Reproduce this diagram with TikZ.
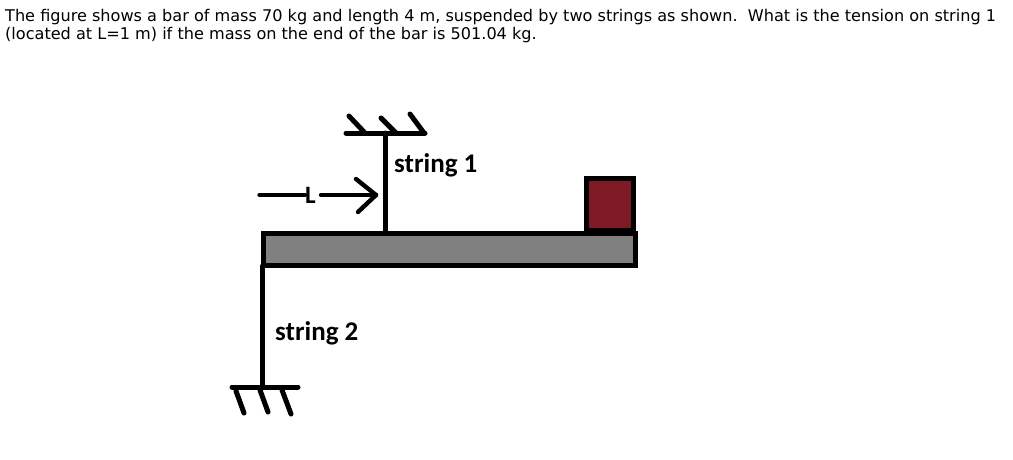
\documentclass[tikz,border=0pt]{standalone}
\usepackage{fontspec}
\setmainfont{DejaVu Sans}
\newfontfamily\labelfont{Carlito}
\definecolor{barGray}{HTML}{808080}
\definecolor{massRed}{HTML}{7F1A24}
\begin{document}
\begin{tikzpicture}[x=1pt,y=-1pt,line cap=round,main line/.style={line width=5pt,draw=black},thin line/.style={line width=4.4pt,draw=black},body node/.style={draw=black,line width=5pt,inner sep=0pt,anchor=north west,line cap=butt},string label/.style={font=\labelfont\bfseries\fontsize{27}{27}\selectfont,inner sep=0pt},text line/.style={font=\fontsize{16.1}{17}\selectfont,inner sep=0pt,anchor=base west}]
                \useasboundingbox (0,0) rectangle (1013,459);
                \node[text line] (line1) at (5,21) {The figure shows a bar of mass 70 kg and length 4 m, suspended by two strings as shown.\ \ What is the tension on string 1};
                \node[text line] (line2) at (5,39) {(located at L=1 m) if the mass on the end of the bar is 501.04 kg.};

                \node[body node,fill=massRed,minimum width=47pt,minimum height=52pt] (mass) at (584,176) {};
                \node[body node,fill=barGray,minimum width=372pt,minimum height=32pt] (bar) at (261,231) {};

                \coordinate (ceilL) at (346,133);
                \coordinate (ceilR) at (425,133);
                \coordinate (ceilM) at (385.5,133);
                \coordinate (barTop) at (385.5,233);
                \coordinate (barCorner) at (262.5,266);
                \coordinate (groundL) at (232,387);
                \coordinate (groundR) at (298,387);
                \coordinate (groundM) at (262.5,387);

                \node[string label,anchor=base west] (label1) at (394,172) {string 1};
                \node[string label,anchor=base west] (label2) at (275,340) {string 2};
                \node[inner sep=0pt,font=\labelfont\bfseries\fontsize{25}{25}\selectfont] (dist) at (310.5,195) {L};

                \coordinate (distL) at (259.5,195);
                \coordinate (distS) at (321,195);
                \coordinate (distR) at (376,195);
                \coordinate (tipA) at (356,179);
                \coordinate (tipB) at (358,212);

                \path[main line]
                    (ceilL) edge (ceilR)
                    (ceilM) edge (barTop)
                    (barCorner) edge (groundM)
                    (groundL) edge (groundR)
                    ;
                \path[thin line]
                    (distL) edge (dist.west)
                    (distS) edge (distR)
                    (tipA) edge (distR)
                    (tipB) edge (distR)
                    ;
                % hatching on the two supports
                \foreach \xa/\ya/\xb/\yb in {349/116/365/133,381/118/396/133,410/114/424/133,236/391/244/413,260/390/268/412,282/390/291/414}
                    \draw[main line] (\xa,\ya) -- (\xb,\yb);
            \end{tikzpicture}
\end{document}
